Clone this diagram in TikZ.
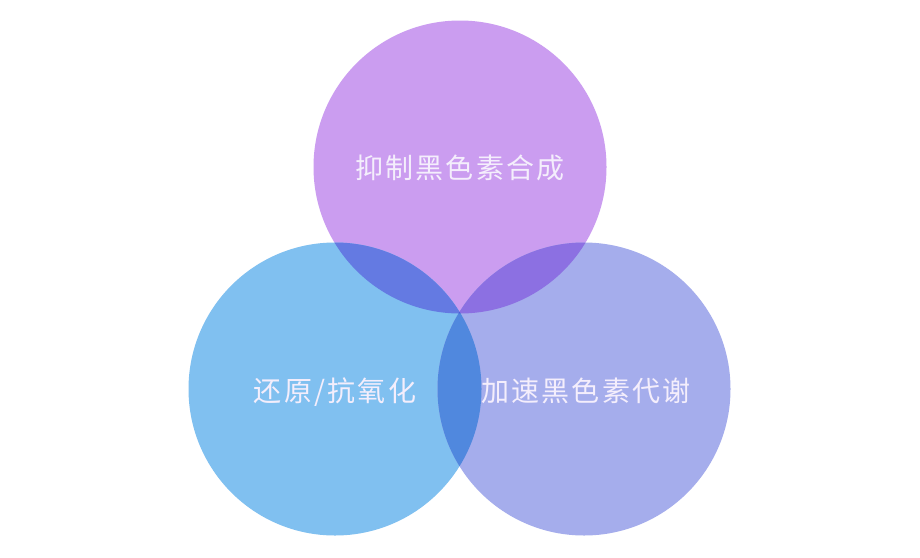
\documentclass[tikz,border=0pt]{standalone}
\usepackage{fontspec}
\newfontfamily\cjk[LetterSpace=8]{Noto Sans CJK SC}
\definecolor{ctop}{RGB}{203,157,240}
\definecolor{cleft}{RGB}{128,192,240}
\definecolor{cright}{RGB}{165,173,236}
\definecolor{ctl}{RGB}{100,122,226}
\definecolor{ctr}{RGB}{140,112,226}
\definecolor{clr}{RGB}{80,136,222}
\definecolor{cmid}{RGB}{75,95,215}
\definecolor{ctext}{RGB}{244,238,252}
\tikzset{
  lbl/.style={text=ctext,font=\cjk\fontsize{28}{32}\selectfont,inner sep=0pt}
}
\begin{document}
\begin{tikzpicture}[x=1pt,y=-1pt]
\useasboundingbox (0,0) rectangle (920,557);
\fill[white] (0,0) rectangle (920,557);
\coordinate (T) at (460,167);
\coordinate (L) at (335,389);
\coordinate (R) at (584,389);
\def\rad{146.5}
\fill[ctop] (T) circle (\rad);
\fill[cleft] (L) circle (\rad);
\fill[cright] (R) circle (\rad);
\begin{scope}
  \clip (T) circle (\rad);
  \fill[ctl] (L) circle (\rad);
  \fill[ctr] (R) circle (\rad);
\end{scope}
\begin{scope}
  \clip (L) circle (\rad);
  \fill[clr] (R) circle (\rad);
\end{scope}
\begin{scope}
  \clip (T) circle (\rad);
  \clip (L) circle (\rad);
  \fill[cmid] (R) circle (\rad);
\end{scope}
\node[lbl] (tt) at (460,168) {抑制黑色素合成};
\node[lbl] (tl) at (335,392) {还原/抗氧化};
\node[lbl] (tr) at (586,391) {加速黑色素代谢};
\end{tikzpicture}
\end{document}
